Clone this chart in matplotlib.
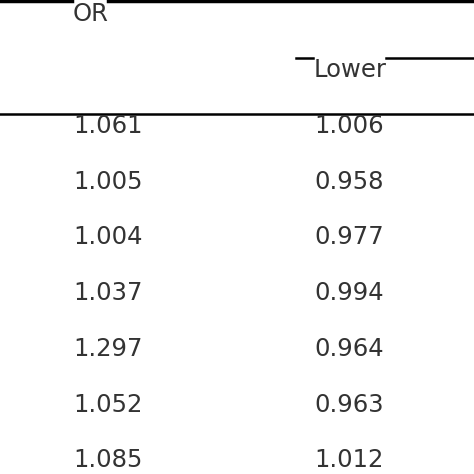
import matplotlib
matplotlib.use('Agg')
import matplotlib.pyplot as plt

header_or = "OR"
header_lower = "Lower"
or_values = ["1.061", "1.005", "1.004", "1.037", "1.297", "1.052", "1.085"]
lower_values = ["1.006", "0.958", "0.977", "0.994", "0.964", "0.963", "1.012"]

fig = plt.figure(figsize=(4.74, 4.74), dpi=100)
ax = fig.add_axes([0, 0, 1, 1])
ax.set_xlim(0, 474)
ax.set_ylim(474, 0)
ax.axis('off')

txt = dict(fontsize=17.5, color='#333333', va='center', ha='left')

# header rules
ax.plot([0, 72], [1, 1], color='black', lw=2.5)
ax.plot([108, 474], [1, 1], color='black', lw=2.5)
ax.text(73, 14, header_or, **txt)
ax.plot([296, 313], [58, 58], color='black', lw=1.8)
ax.plot([386, 474], [58, 58], color='black', lw=1.8)
ax.text(314, 70, header_lower, **txt)
ax.plot([0, 474], [114, 114], color='black', lw=1.8)

for i, (o, l) in enumerate(zip(or_values, lower_values)):
    y = 126 + i * 55.7
    ax.text(73, y, o, **txt)
    ax.text(314, y, l, **txt)

fig.savefig('out.png', dpi=100)
